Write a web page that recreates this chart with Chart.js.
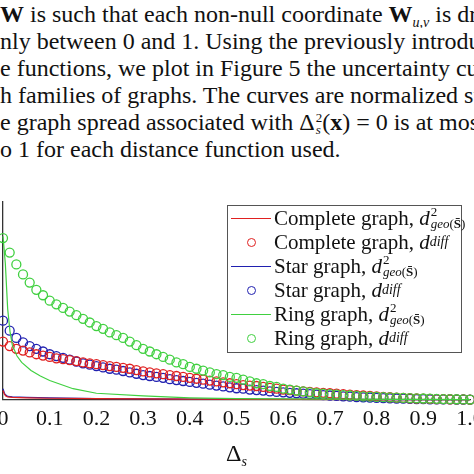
<!DOCTYPE html>
<html>
<head>
<meta charset="utf-8">
<script src="https://cdn.jsdelivr.net/npm/chart.js@4"></script>
<style>
  html, body { margin:0; padding:0; background:#fff; width:474px; height:474px; overflow:hidden; position:relative; }
  .txt { position:absolute; left:0; width:474px; height:27px; overflow:hidden; white-space:nowrap;
         font-family:"Liberation Serif", serif; font-size:24px; color:#111; line-height:27px; }
  #wrap { position:absolute; left:-10px; top:196px; width:500px; height:278px; }
  #xtitle { position:absolute; left:226px; top:440px; font-family:"Liberation Serif", serif; font-size:24px; color:#111; }
  #legend { position:absolute; left:227px; top:205px; width:233px; height:146px; border:1.5px solid #555;
            background:#fff; font-family:"Liberation Serif", serif; font-size:21px; color:#111; white-space:nowrap; }
  .row { position:absolute; left:0; height:24px; display:flex; align-items:center; white-space:nowrap; }
  .sym { width:46px; flex:none; display:flex; justify-content:center; align-items:center; }
  .ln { width:40px; height:0; border-top:1.3px solid; }
  .ci { width:7px; height:7px; border-radius:50%; border:1.3px solid; }
  .ss { display:inline-flex; flex-direction:column; font-size:13px; line-height:12px; vertical-align:middle; margin-left:1px; }
  .sb { font-size:14px; vertical-align:-5px; line-height:0; }
  i { font-style:italic; }
</style>
</head>
<body>
<div class="txt" style="top:1px"><b>W</b> is such that each non-null coordinate <b>W</b><span class="sb"><i>u,v</i></span> is drawn</div>
<div class="txt" style="top:28px">nly between 0 and 1. Using the previously introduced</div>
<div class="txt" style="top:55px">e functions, we plot in Figure 5 the uncertainty curves</div>
<div class="txt" style="top:82px">h families of graphs. The curves are normalized such</div>
<div class="txt" style="top:109px">e graph spread associated with Δ<span class="ss"><span>2</span><i>s</i></span>(<b>x</b>) = 0 is at most</div>
<div class="txt" style="top:136px">o 1 for each distance function used.</div>

<div id="wrap"><canvas id="c"></canvas></div>
<div id="xtitle">Δ<span class="sb"><i>s</i></span></div>

<div id="legend">
  <div class="row" style="top:0px"><div class="sym"><div class="ln" style="border-color:#e02020"></div></div>Complete graph,&nbsp;<i>d</i><span class="ss"><span>2</span><span><i>geo</i>(<b>S̄</b>)</span></span></div>
  <div class="row" style="top:24px"><div class="sym"><div class="ci" style="border-color:#e02020"></div></div>Complete graph,&nbsp;<i>d</i><span class="sb"><i>diff</i></span></div>
  <div class="row" style="top:48px"><div class="sym"><div class="ln" style="border-color:#2020b0"></div></div>Star graph,&nbsp;<i>d</i><span class="ss"><span>2</span><span><i>geo</i>(<b>S̄</b>)</span></span></div>
  <div class="row" style="top:72px"><div class="sym"><div class="ci" style="border-color:#2020b0"></div></div>Star graph,&nbsp;<i>d</i><span class="sb"><i>diff</i></span></div>
  <div class="row" style="top:96px"><div class="sym"><div class="ln" style="border-color:#40d040"></div></div>Ring graph,&nbsp;<i>d</i><span class="ss"><span>2</span><span><i>geo</i>(<b>S̄</b>)</span></span></div>
  <div class="row" style="top:120px"><div class="sym"><div class="ci" style="border-color:#40d040"></div></div>Ring graph,&nbsp;<i>d</i><span class="sb"><i>diff</i></span></div>
</div>

<script>
// ── DATA ──────────────────────────────────────────────────────────
const nCircles = 71; // circle markers sampled evenly on [0, 1]

const ringDiff = [1.78,1.62,1.49,1.38,1.29,1.21,1.15,1.09,1.05,1.01,0.97,0.93,0.89,0.85,0.81,0.78,0.74,0.71,0.68,0.64,
  0.60,0.56,0.53,0.50,0.47,0.44,0.41,0.39,0.36,0.34,0.32,0.30,0.28,0.27,0.25,0.24,0.22,0.20,0.18,0.17,
  0.15,0.14,0.12,0.11,0.10,0.09,0.08,0.07,0.065,0.06,0.055,0.05,0.045,0.04,0.036,0.032,0.03,0.027,0.024,0.021,
  0.018,0.016,0.014,0.012,0.01,0.008,0.006,0.005,0.004,0.002,0];
const completeDiff = [0.64,0.59,0.56,0.54,0.52,0.50,0.485,0.47,0.455,0.445,0.435,0.425,0.41,0.40,0.39,0.38,0.37,0.36,0.35,0.34,
  0.325,0.31,0.30,0.29,0.28,0.27,0.26,0.25,0.24,0.23,0.22,0.21,0.20,0.19,0.18,0.17,0.16,0.155,0.15,0.14,
  0.13,0.12,0.11,0.105,0.10,0.09,0.085,0.08,0.075,0.07,0.065,0.06,0.055,0.05,0.045,0.04,0.035,0.03,0.026,0.022,
  0.018,0.015,0.012,0.01,0.008,0.006,0.005,0.004,0.003,0.002,0];
const starDiff = [0.87,0.76,0.68,0.63,0.59,0.56,0.53,0.50,0.48,0.46,0.44,0.42,0.40,0.385,0.37,0.355,0.34,0.33,0.315,0.30,
  0.285,0.27,0.26,0.25,0.24,0.225,0.215,0.205,0.195,0.185,0.175,0.165,0.155,0.145,0.135,0.125,0.12,0.11,0.105,0.10,
  0.09,0.085,0.08,0.075,0.07,0.065,0.06,0.055,0.05,0.045,0.04,0.036,0.032,0.028,0.025,0.022,0.019,0.016,0.014,0.012,
  0.01,0.008,0.006,0.005,0.004,0.003,0.002,0.002,0.001,0.001,0];

const ringGeoX = [0,0.005,0.01,0.015,0.02,0.03,0.04,0.06,0.08,0.1,0.15,0.2,0.3,0.4,0.5,0.7,1];
const ringGeoY = [1.8,1.5,1.0,0.75,0.6,0.48,0.41,0.32,0.26,0.21,0.12,0.07,0.04,0.02,0.01,0.005,0];
const lineX    = [0,0.003,0.006,0.01,0.02,0.05,0.1,0.2,0.4,0.6,1];
const completeGeoY = [0.10,0.06,0.04,0.03,0.025,0.02,0.015,0.01,0.005,0.002,0];
const starGeoY     = [0.12,0.07,0.05,0.035,0.03,0.024,0.018,0.012,0.006,0.002,0];

const xTicks = [0,0.1,0.2,0.3,0.4,0.5,0.6,0.7,0.8,0.9,1];

// ── BUILD ─────────────────────────────────────────────────────────
const circleX = Array.from({ length: nCircles }, (_, i) => i / (nCircles - 1));
const pts = (xs, ys) => ys.map((y, i) => ({ x: xs[i], y }));

const RED = '#e02020', BLUE = '#2020b0', GREEN = '#40d040';
const lineDs = (data, c) => ({ type: 'line', data, borderColor: c, borderWidth: 1.2, pointRadius: 0, showLine: true, tension: 0 });
const circDs = (data, c) => ({ type: 'scatter', data, borderColor: c, backgroundColor: 'transparent', borderWidth: 1.3, pointRadius: 4.5, showLine: false });

new Chart(document.getElementById('c'), {
  type: 'scatter',
  data: {
    datasets: [
      lineDs(pts(ringGeoX, ringGeoY), GREEN),
      lineDs(pts(lineX, completeGeoY), RED),
      lineDs(pts(lineX, starGeoY), BLUE),
      circDs(pts(circleX, ringDiff), GREEN),
      circDs(pts(circleX, completeDiff), RED),
      circDs(pts(circleX, starDiff), BLUE),
    ],
  },
  options: {
    responsive: true,
    maintainAspectRatio: false,
    animation: false,
    clip: false,
    layout: { padding: { left: 0, right: 20, top: 0, bottom: 36 } },
    plugins: { legend: { display: false }, tooltip: { enabled: false } },
    scales: {
      x: {
        type: 'linear', min: 0, max: 1,
        afterBuildTicks: ax => { ax.ticks = xTicks.map(v => ({ value: v })); },
        grid: { display: false, drawTicks: false },
        border: { color: '#333', width: 1.3 },
        ticks: { color: '#111', font: { family: 'Liberation Serif', size: 22 }, padding: 6, maxRotation: 0 },
      },
      y: {
        min: 0, max: 2.18,
        grid: { display: false, drawTicks: false },
        border: { color: '#333', width: 1.3 },
        ticks: { display: false },
        afterFit: ax => { ax.width = 13; },
      },
    },
  },
});
</script>
</body>
</html>
